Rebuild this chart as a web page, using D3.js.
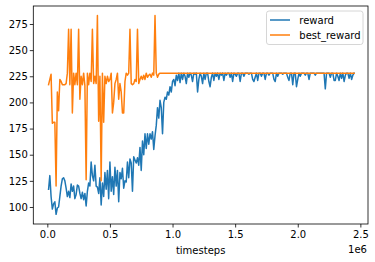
<!DOCTYPE html>
<html>
<head>
<meta charset="utf-8">
<script src="https://cdn.jsdelivr.net/npm/d3@7"></script>
<style>
  html, body { margin: 0; padding: 0; background: #fff; }
  svg { display: block; }
  text { font-family: "DejaVu Sans", sans-serif; font-size: 10px; fill: #000; }
</style>
</head>
<body>
<svg id="chart" width="375" height="262"></svg>
<script>
// ---- data ----
const stepSize = 10000;           // timesteps between points
const nPoints = 245;              // 0.01e6 ... 2.45e6
const timesteps = d3.range(1, nPoints + 1).map(i => i * stepSize);

const reward = [
  117,130,110,98,103,105,93,99,100,110,
  120,127,128,125,118,110,115,109,122,115,
  120,108,112,121,120,113,108,114,107,113,
  101,115,123,120,143,130,125,140,120,119,
  113,128,102,123,110,133,117,135,108,143,
  115,129,112,138,120,135,105,133,127,137,
  118,125,124,143,128,146,142,115,148,145,
  142,147,140,157,135,163,150,170,156,170,
  160,170,165,172,155,168,178,195,185,202,
  195,170,200,205,203,210,207,215,210,220,
  222,216,226,221,228,219,228,222,228,225,
  218,228,224,228,226,220,228,227,228,210,
  222,228,225,218,228,222,228,228,220,215,
  224,228,221,228,225,228,222,228,226,228,
  221,228,226,228,228,224,228,220,228,227,
  225,228,228,220,228,228,225,228,228,228,
  227,228,228,222,220,224,228,221,228,228,
  225,228,228,222,228,228,226,228,228,228,
  222,220,228,225,228,228,228,227,228,228,
  228,224,221,228,228,217,228,228,215,222,
  228,225,228,228,228,226,228,228,222,228,
  228,228,228,226,228,228,228,228,228,228,
  228,213,228,228,228,224,228,228,221,221,
  228,225,221,228,223,228,220,226,228,228,
  223,228,222,226,228
];

const bestReward = [
  217,222,227,180,181,181,120,210,192,222,
  220,217,217,217,218,228,270,217,270,190,
  228,217,228,217,270,203,225,217,228,216,
  126,228,217,228,220,270,218,225,218,283,
  182,225,125,228,181,225,218,225,220,222,
  228,190,200,218,222,228,203,218,210,190,
  190,220,228,226,228,270,218,217,218,222,
  220,270,218,222,225,222,226,222,228,224,
  226,227,224,228,226,283,228,224,227,228,
  228,228,228,228,228,228,228,228,228,228,
  228,228,228,228,228,228,228,228,228,228,
  228,228,228,228,228,228,228,228,228,228,
  228,228,228,228,228,228,228,228,228,228,
  228,228,228,228,228,228,228,228,228,228,
  228,228,228,228,228,228,228,228,228,228,
  228,228,228,228,228,228,228,228,228,228,
  228,228,228,228,228,228,228,228,228,228,
  228,228,228,228,228,228,228,228,228,228,
  228,228,228,228,228,228,228,228,228,228,
  228,228,228,228,228,228,228,228,228,228,
  228,228,228,228,228,228,228,228,228,228,
  228,228,228,228,228,228,228,228,228,228,
  228,228,228,228,228,228,228,228,228,228,
  228,228,228,228,228,228,228,228,228,228,
  228,228,228,228,228
];

const xTicks = [0, 500000, 1000000, 1500000, 2000000, 2500000];
const xTickLabels = ["0.0", "0.5", "1.0", "1.5", "2.0", "2.5"];
const yTicks = [100, 125, 150, 175, 200, 225, 250, 275];
const seriesNames = ["reward", "best_reward"];
const seriesColors = ["#1f77b4", "#ff7f0e"];
const xLabel = "timesteps";
const xOffsetLabel = "1e6";

// ---- layout ----
const plot = { left: 33.3, right: 368, top: 6, bottom: 224 };
const svg = d3.select("#chart");

const x = d3.scaleLinear().domain([-112000, 2561000]).range([plot.left, plot.right]);
const y = d3.scaleLinear().domain([83.74, 292.2]).range([plot.bottom, plot.top]);

// axes
const xAxis = d3.axisBottom(x).tickValues(xTicks)
  .tickFormat((d, i) => xTickLabels[i]).tickSize(3.5).tickPadding(3.5);
const yAxis = d3.axisLeft(y).tickValues(yTicks)
  .tickFormat(d3.format("d")).tickSize(3.5).tickPadding(2);

const gx = svg.append("g").attr("transform", `translate(0,${plot.bottom})`).call(xAxis);
const gy = svg.append("g").attr("transform", `translate(${plot.left},0)`).call(yAxis);
[gx, gy].forEach(g => {
  g.select(".domain").remove();
  g.selectAll(".tick line").attr("stroke", "#000").attr("stroke-width", 0.8);
  g.selectAll(".tick text").style("font-family", "DejaVu Sans").style("font-size", "10px").attr("fill", "#000");
});

// lines
const line = d3.line().x((d, i) => x(timesteps[i])).y(d => y(d));
const plotG = svg.append("g");
[reward, bestReward].forEach((vals, k) => {
  plotG.append("path")
    .datum(vals)
    .attr("fill", "none")
    .attr("stroke", seriesColors[k])
    .attr("stroke-width", 1.5)
    .attr("stroke-linejoin", "round")
    .attr("stroke-linecap", "square")
    .attr("d", line);
});

// frame
svg.append("rect")
  .attr("x", plot.left).attr("y", plot.top)
  .attr("width", plot.right - plot.left).attr("height", plot.bottom - plot.top)
  .attr("fill", "none").attr("stroke", "#000").attr("stroke-width", 0.8);

// axis labels
svg.append("text").attr("x", (plot.left + plot.right) / 2).attr("y", 253.5)
  .attr("text-anchor", "middle").text(xLabel);
svg.append("text").attr("x", 367).attr("y", 252.5)
  .attr("text-anchor", "end").text(xOffsetLabel);

// legend
const lg = svg.append("g");
lg.append("rect").attr("x", 266.5).attr("y", 11).attr("width", 96.5).attr("height", 33.5)
  .attr("rx", 2.5).attr("fill", "#fff").attr("fill-opacity", 0.8)
  .attr("stroke", "#cccccc").attr("stroke-width", 0.8);
seriesNames.forEach((name, k) => {
  const yy = 20 + k * 15;
  lg.append("line").attr("x1", 270).attr("x2", 290).attr("y1", yy).attr("y2", yy)
    .attr("stroke", seriesColors[k]).attr("stroke-width", 1.5);
  lg.append("text").attr("x", 299.3).attr("y", yy + 3.6).text(name);
});
</script>
</body>
</html>
